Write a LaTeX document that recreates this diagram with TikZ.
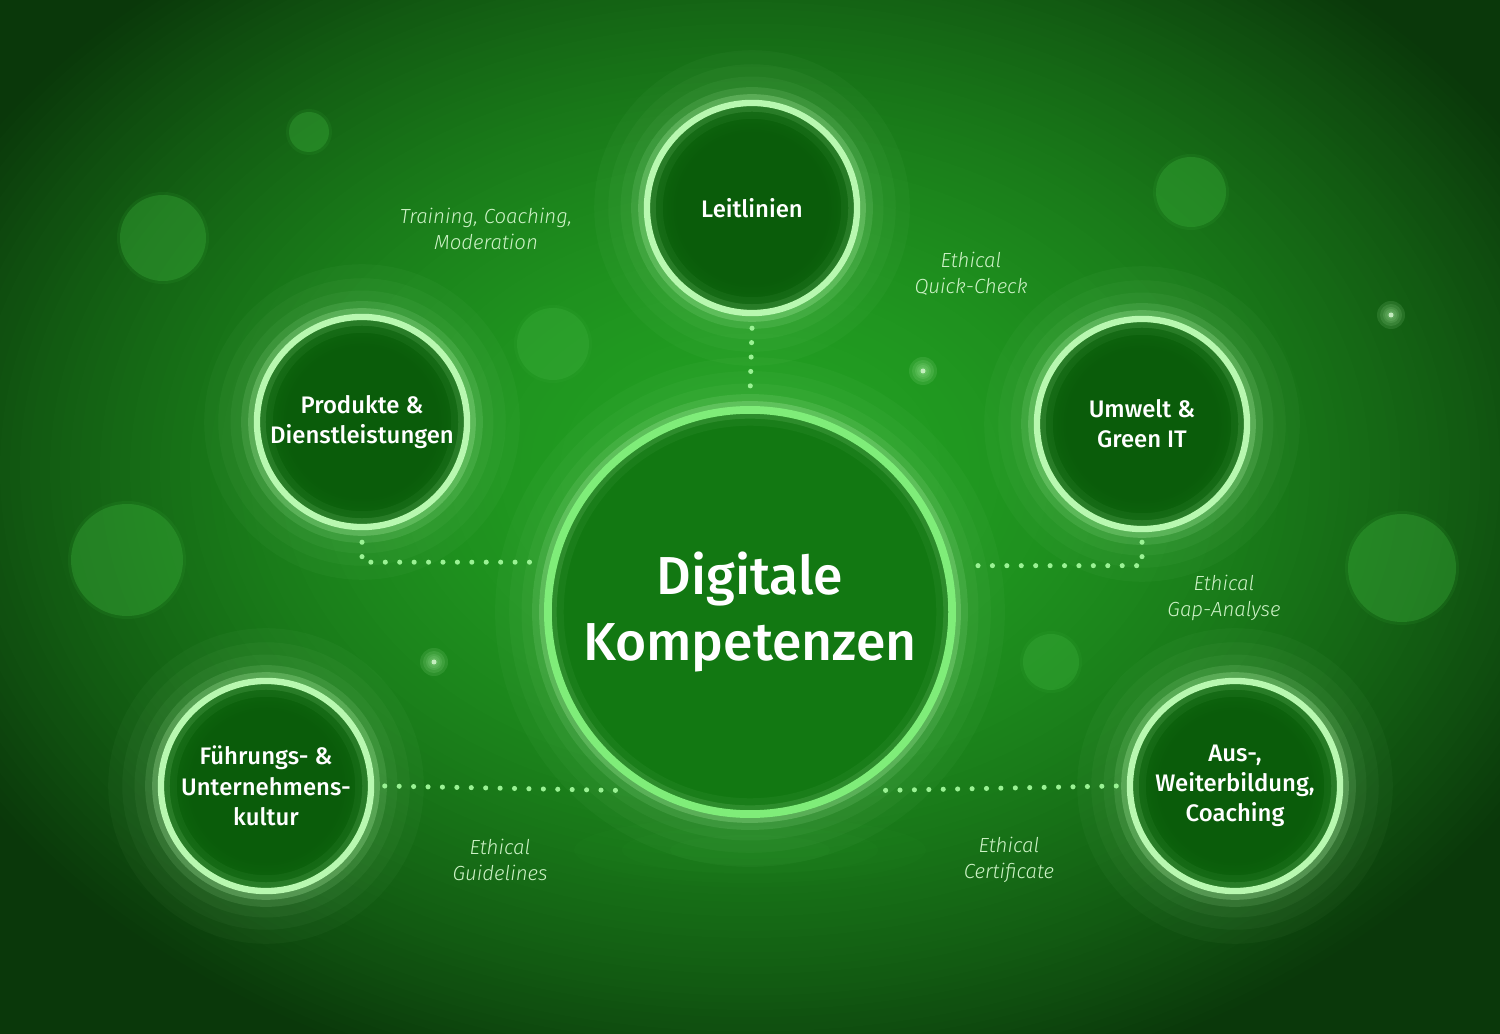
\documentclass[tikz,border=0pt]{standalone}
\usepackage{fontspec}
\setmainfont{Fira Sans}[BoldFont={Fira Sans Medium}, ItalicFont={Fira Sans Light Italic}]
\usetikzlibrary{calc}

\definecolor{bgA}{HTML}{22A022}
\definecolor{bgE}{HTML}{0A380A}
\definecolor{inA}{HTML}{0A5C0A}
\definecolor{inB}{HTML}{1E921E}
\definecolor{hubA}{HTML}{127812}
\definecolor{hubB}{HTML}{1A8C1A}
\definecolor{ringc}{HTML}{B8F8B0}
\definecolor{hubring}{HTML}{74EC70}
\definecolor{dotc}{HTML}{9AF294}
\definecolor{lblc}{HTML}{CDF2C6}
\definecolor{bubc}{HTML}{3AAE3A}

\pgfdeclareradialshading{innerglow}{\pgfpoint{0bp}{0bp}}{color(0bp)=(inA); color(18bp)=(inA); color(50bp)=(inB)}
\pgfdeclareradialshading{hubglow}{\pgfpoint{0bp}{0bp}}{color(0bp)=(hubA); color(30bp)=(hubA); color(50bp)=(hubB)}

\begin{document}
\begin{tikzpicture}[x=0.01cm, y=-0.01cm]

\tikzstyle{ring} = [circle, minimum size=2.1cm, inner sep=0pt, draw=ringc, line width=1.8pt,
  shading=innerglow, text=white, align=center, font=\fontsize{6.8}{8.6}\selectfont\bfseries,
  preaction={draw=ringc, line width=30pt, draw opacity=0.035},
  preaction={draw=ringc, line width=22pt, draw opacity=0.04},
  preaction={draw=ringc, line width=15pt, draw opacity=0.05},
  preaction={draw=ringc, line width=9pt, draw opacity=0.08},
  preaction={draw=ringc, line width=5pt, draw opacity=0.15},
  postaction={draw=ringc, line width=5pt, draw opacity=0.12},
  postaction={draw=ringc, line width=9pt, draw opacity=0.05}]
\tikzstyle{hub} = [ring, minimum size=4.04cm, draw=hubring, line width=2.2pt, shading=hubglow,
  font=\fontsize{15.2}{19.5}\selectfont\bfseries]
\tikzstyle{lbl} = [text=lblc, align=center, font=\fontsize{5.8}{7.4}\selectfont\itshape]
\tikzstyle{dotline} = [draw=dotc, line width=1.45pt, line cap=round, dash pattern=on 0pt off 4.1pt]
\tikzstyle{bubble} = [fill=bubc, fill opacity=0.35]

\useasboundingbox (0,0) rectangle (1500,1034);

% background
\fill[bgE] (0,0) rectangle (1500,1034);
\begin{scope}
  \clip (0,0) rectangle (1500,1034);
  \foreach \r in {1100,1090,...,10} {
    \pgfmathsetmacro\p{max(0,100*(1-(\r/900)^1.8))}
    \fill[bgA!\p!bgE] (750,470) ellipse [x radius=\r, y radius=\r*0.72];
  }
  \foreach \s/\q in {110/0.04, 80/0.05, 50/0.06} {
    \fill[bubc, opacity=\q] (750,850) ellipse [x radius=\s*1.6, y radius=\s*0.3];
  }
\end{scope}

% bubbles
\foreach \x/\y/\r in {309/132/20, 163/238/43, 553/344/36, 1191/192/35,
  127/560/56, 1402/568/54, 1051/662/28} {
  \fill[bubble] (\x,\y) circle (\r);
  \fill[bubc, fill opacity=0.12] (\x,\y) circle (\r+3);
}

% sparkles
\foreach \x/\y in {923/371, 1391/315, 434/662} {
  \foreach \g in {14,11,8,6,4} {
    \fill[ringc, opacity=0.12] (\x,\y) circle (\g);
  }
  \fill[ringc!50!white, opacity=0.8] (\x,\y) circle (2.5);
}

% circles
\node[hub] (zent) at (750,612) {\raisebox{-1pt}{Digitale}\\Kompetenzen};
\node[ring] (lei) at (752,208) {Leitlinien};
\node[ring] (prod) at (362,422) {Produkte \&\\Dienstleistungen};
\node[ring] (umw) at (1142,424) {Umwelt \&\\Green IT};
\node[ring] (fuehr) at (266,786) {Führungs- \&\\Unternehmens-\\kultur};
\node[ring] (aus) at (1235,786) {Aus-,\\Weiterbildung,\\Coaching};

% dotted connectors
\draw[dotline] ($(lei.south)+(0,12)$) -- ($(zent.north)+(0,-10)$);
\draw[dotline] ($(prod.south)+(0,12)$) |- ([xshift=-5pt]zent.166.5);
\draw[dotline] ($(umw.south)+(0,10)$) |- ([xshift=5pt]zent.13.5);
\draw[dotline] ([xshift=3pt]fuehr.east) -- ([xshift=-8.8pt]zent.240.6);
\draw[dotline] ([xshift=-3pt]aus.west) -- ([xshift=8.8pt]zent.-60.6);

% labels
\node[lbl] (l1) at (486,229) {Training, Coaching,\\Moderation};
\node[lbl] (l2) at (971,274) {Ethical\\Quick-Check};
\node[lbl] (l3) at (1224,598) {Ethical\\Gap-Analyse};
\node[lbl] (l4) at (500,860) {Ethical\\Guidelines};
\node[lbl] (l5) at (1009,860) {Ethical\\Certificate};

\end{tikzpicture}
\end{document}
